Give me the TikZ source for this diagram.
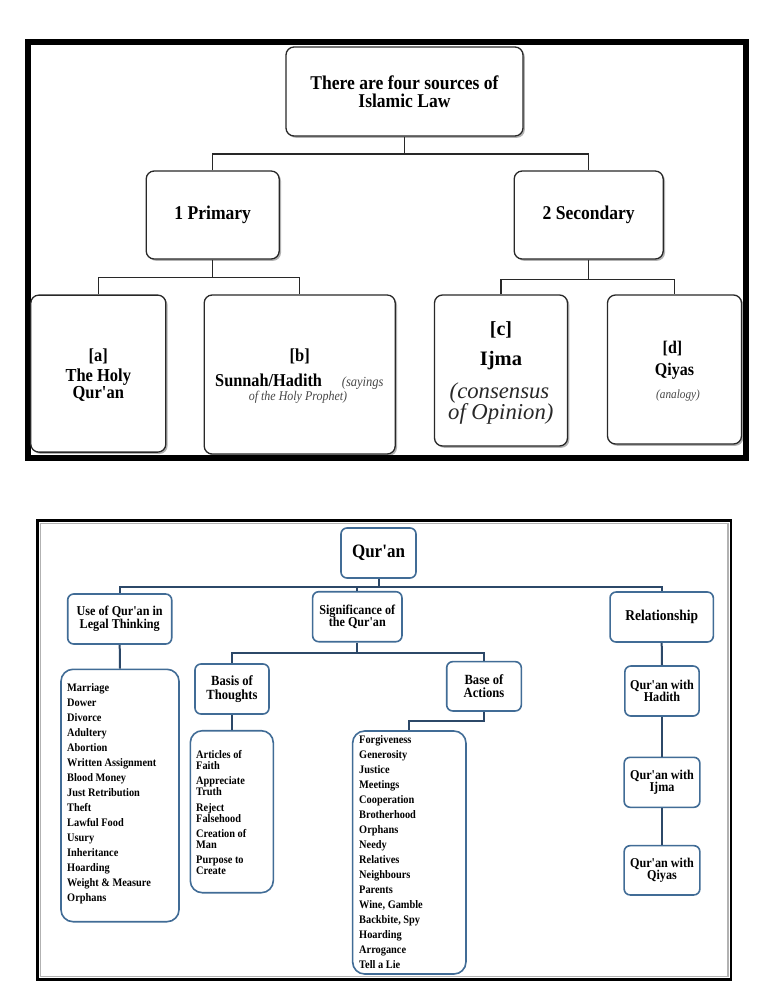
\documentclass[tikz,border=0pt]{standalone}
\usepackage{fontspec}
\setmainfont{Liberation Serif}
\newfontfamily\cf{Liberation Serif}[FakeStretch=0.9]
\newfontfamily\cfn{Liberation Serif}
\usetikzlibrary{shadows}
\definecolor{bboxc}{RGB}{65,108,150}
\definecolor{bconnc}{RGB}{44,72,104}
\definecolor{tlinec}{RGB}{40,40,40}
\definecolor{tgrey}{RGB}{70,70,70}
\begin{document}
\begin{tikzpicture}[x=1pt,y=-1pt,
  tbox/.style={draw=tlinec, line width=1.3pt, rounded corners=8pt, fill=white,
    drop shadow={shadow xshift=1.8pt, shadow yshift=-1.8pt, fill=black, opacity=0.3},
    inner sep=0pt, align=center},
  tconn/.style={draw=tlinec, line width=1.5pt},
  ttxt/.style={inner sep=0pt, anchor=base},
  tb/.style={font=\cf\bfseries\fontsize{#1}{#1}\selectfont},
  ti/.style={font=\cf\itshape\fontsize{#1}{#1}\selectfont},
  tbn/.style={font=\cfn\bfseries\fontsize{#1}{#1}\selectfont},
  tin/.style={font=\cfn\itshape\fontsize{#1}{#1}\selectfont},
  bbox/.style={draw=bboxc, line width=1.6pt, rounded corners=6pt, fill=white,
    inner sep=0pt, align=center, font=\cf\bfseries\fontsize{13.5}{12.6}\selectfont},
  lbox/.style={draw=bboxc, line width=1.6pt, rounded corners=12pt, fill=white, inner sep=0pt},
  bconn/.style={draw=bconnc, line width=2pt},
  ltxt/.style={inner sep=0pt, align=left, anchor=north west, font=\cf\bfseries\fontsize{11.5}{15}\selectfont}
]
\fill[white] (0,0) rectangle (768,994);
\useasboundingbox (0,0) rectangle (768,994);

% ---------- top diagram ----------
\draw[line width=6pt] (28,42) rectangle (745.5,458);

\node[tbox, minimum width=237pt, minimum height=89pt, font=\cf\bfseries\fontsize{19.5}{18.3}\selectfont] (root) at (404.5,91.5) {There are four sources of\\Islamic Law};
\node[tbox, minimum width=133pt, minimum height=88pt, font=\cf\bfseries\fontsize{19.5}{18.3}\selectfont] (prim) at (212.7,215) {1 Primary};
\node[tbox, minimum width=149pt, minimum height=88pt, font=\cf\bfseries\fontsize{19.5}{18.3}\selectfont] (sec) at (588.7,215) {2 Secondary};
\node[tbox, minimum width=135pt, minimum height=157pt] (sa) at (98.3,373.6) {};
\node[tbox, minimum width=191pt, minimum height=159pt] (sb) at (299.7,374.5) {};
\node[tbox, minimum width=133pt, minimum height=151pt] (sc) at (501,370.5) {};
\node[tbox, minimum width=134pt, minimum height=149pt] (sd) at (674.5,369.5) {};

\node[ttxt, tb=18.3] (a1) at (98.3,361) {[a]};
\node[inner sep=0pt, align=center, font=\cf\bfseries\fontsize{18.3}{14.5}\selectfont] (a2) at (98.3,385.5) {The Holy\\Qur'an};

\node[ttxt, tb=18.3] (b1) at (299.7,361) {[b]};
\node[ttxt, tb=18.1, anchor=base west] (b2) at (215,386) {Sunnah/Hadith};
\node[ttxt, ti=13.9, anchor=base west, text=tgrey] (b3) at (341.7,386) {(sayings};
\node[ttxt, ti=13.3, text=tgrey] (b4) at (298,400.5) {of the Holy Prophet)};

\node[ttxt, tbn=20] (c1) at (501,335) {[c]};
\node[ttxt, tbn=20.5] (c2) at (501,365) {Ijma};
\node[ttxt, tin=22.7, text=tlinec] (c3) at (499.5,398.5) {(consensus};
\node[ttxt, tin=22.7, text=tlinec] (c4) at (500.8,419) {of Opinion)};

\node[ttxt, tb=17.8] (d1) at (672.5,353.5) {[d]};
\node[ttxt, tb=17.8] (d2) at (674.5,375) {Qiyas};
\node[ttxt, ti=12.5, text=tgrey] (d3) at (678,398) {(analogy)};

\draw[tconn] (root.south) -- ++(0,17.3) coordinate (rbar);
\draw[tconn] (prim.north) |- (rbar) -| (sec.north);
\draw[tconn] (prim.south) -- ++(0,18) coordinate (pbar);
\draw[tconn] (sa.north) |- (pbar) -| (sb.north);
\draw[tconn] (sec.south) -- ++(0,20) coordinate (sbar);
\draw[tconn] (sc.north) |- (sbar) -| (sd.north);

% ---------- bottom diagram ----------
\draw[black, line width=2.5pt] (37.5,520.5) rectangle (731,979.5);
\draw[black!30, line width=1.5pt] (40.5,523.5) rectangle (728,976.5);

\node[bbox, minimum width=75pt, minimum height=50pt, font=\cf\bfseries\fontsize{18.9}{18}\selectfont] (quran) at (378.5,553) {Qur'an};
\node[bbox, minimum width=104pt, minimum height=50pt] (use) at (119.7,619) {Use of Qur'an in\\Legal Thinking};
\node[bbox, minimum width=89.3pt, minimum height=50pt] (sig) at (357.3,616.7) {Significance of\\the Qur'an};
\node[bbox, minimum width=103.3pt, minimum height=50pt, font=\cf\bfseries\fontsize{15}{14}\selectfont] (rel) at (661.7,617) {Relationship};
\node[bbox, minimum width=74pt, minimum height=50pt, font=\cf\bfseries\fontsize{14}{13.3}\selectfont] (basis) at (232,689) {Basis of\\Thoughts};
\node[bbox, minimum width=74.6pt, minimum height=49.3pt, font=\cf\bfseries\fontsize{14}{13.3}\selectfont] (base) at (484,686.3) {Base of\\Actions};
\node[bbox, minimum width=74.3pt, minimum height=50pt] (hadith) at (662,691) {Qur'an with\\Hadith};
\node[bbox, minimum width=75.7pt, minimum height=50pt] (ijma) at (662,782.3) {Qur'an with\\Ijma};
\node[bbox, minimum width=75.7pt, minimum height=49.3pt] (qiyas) at (662,870.3) {Qur'an with\\Qiyas};

\node[lbox, minimum width=118pt, minimum height=252.4pt] (legal) at (120,795.5) {};
\node[lbox, minimum width=83pt, minimum height=162pt] (thoughts) at (231.8,811.7) {};
\node[lbox, minimum width=113.3pt, minimum height=243pt] (actions) at (409.3,852.5) {};

\node[ltxt] (legaltxt) at (67,683.4) {Marriage\\Dower\\Divorce\\Adultery\\Abortion\\Written Assignment\\Blood Money\\Just Retribution\\Theft\\Lawful Food\\Usury\\Inheritance\\Hoarding\\Weight \& Measure\\Orphans};
\node[ltxt, font=\cf\bfseries\fontsize{11.5}{11}\selectfont] (thtxt) at (196,750.1) {Articles of\\Faith\\[4.3pt]Appreciate\\Truth\\[4.3pt]Reject\\Falsehood\\[4.3pt]Creation of\\Man\\[4.3pt]Purpose to\\Create};
\node[ltxt] (actxt) at (359,735.1) {Forgiveness\\Generosity\\Justice\\Meetings\\Cooperation\\Brotherhood\\Orphans\\Needy\\Relatives\\Neighbours\\Parents\\Wine, Gamble\\Backbite, Spy\\Hoarding\\Arrogance\\Tell a Lie};

\draw[bconn] (quran.south) -- ++(0,8) coordinate (qbar);
\draw[bconn] (use.north) |- (qbar) -| (rel.north);
\draw[bconn] (sig.north) -- (sig.north |- qbar);
\draw[bconn] (sig.south) -- ++(0,10) coordinate (sgbar);
\draw[bconn] (basis.north) |- (sgbar) -| (base.north);
\draw[bconn] (use.south) -- (legal.north);
\draw[bconn] (basis.south) -- (basis.south |- thoughts.north);
\draw[bconn] (base.south) -- ++(0,9.7) -| (actions.north);
\draw[bconn] (rel.south) -- (hadith.north);
\draw[bconn] (hadith.south) -- (ijma.north);
\draw[bconn] (ijma.south) -- (qiyas.north);
\end{tikzpicture}
\end{document}
